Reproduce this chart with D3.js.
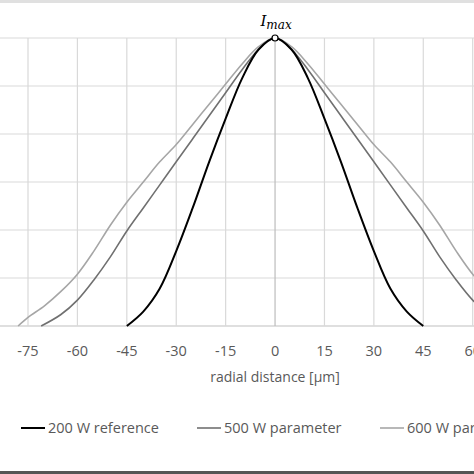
<!DOCTYPE html>
<html><head><meta charset="utf-8">
<script src="https://cdn.jsdelivr.net/npm/d3@7"></script>
<style>body{margin:0;background:#fff}</style></head>
<body><svg id="c" width="474" height="474"></svg>
<script>
const xTicks = [-75,-60,-45,-30,-15,0,15,30,45,60,75];
const seriesNames = ["200 W reference","500 W parameter","600 W parameter"];
const seriesColors = ["#000000","#707070","#a6a6a6"];
const x200 = [-45,-40,-35,-30,-25,-20,-15,-10,-5,0,5,10,15,20,25,30,35,40,45];
const y200 = [0,0.05,0.13,0.26,0.41,0.57,0.72,0.86,0.96,1,0.96,0.86,0.72,0.57,0.41,0.26,0.13,0.05,0];
const x500 = [-71,-65,-60,-55,-50,-45,-40,-35,-30,-25,-20,-15,-10,-5,0,5,10,15,20,25,30,35,40,45,50,55,60,65,71];
const y500 = [0,0.04,0.09,0.16,0.24,0.33,0.41,0.49,0.57,0.65,0.73,0.81,0.89,0.96,1,0.96,0.89,0.81,0.73,0.65,0.57,0.49,0.41,0.33,0.24,0.16,0.09,0.04,0];
const x600 = [-78,-75,-70,-65,-60,-55,-50,-45,-40,-35,-30,-25,-20,-15,-10,-5,0,5,10,15,20,25,30,35,40,45,50,55,60,65,70,75,78];
const y600 = [0,0.03,0.07,0.12,0.18,0.26,0.35,0.43,0.50,0.57,0.63,0.70,0.77,0.84,0.91,0.97,1,0.97,0.91,0.84,0.77,0.70,0.63,0.57,0.50,0.43,0.35,0.26,0.18,0.12,0.07,0.03,0];
const yTicks = [0,1/6,2/6,3/6,4/6,5/6,1];

const svg = d3.select("#c");
const x = d3.scaleLinear().domain([-83.5,60.4]).range([0,474]);
const y = d3.scaleLinear().domain([0,1]).range([326,38]);

svg.append("line").attr("x1",0).attr("x2",474).attr("y1",1.5).attr("y2",1.5).attr("stroke","#e0e0e0").attr("stroke-width",3);
svg.append("line").attr("x1",0).attr("x2",474).attr("y1",472.5).attr("y2",472.5).attr("stroke","#555").attr("stroke-width",3);

const g = svg.append("g");
g.selectAll(".hg").data(yTicks).join("line").attr("x1",0).attr("x2",474)
 .attr("y1",d=>y(d)).attr("y2",d=>y(d)).attr("stroke",(d)=>d===0?"#bfbfbf":"#d9d9d9").attr("stroke-width",1.2);
g.selectAll(".vg").data(xTicks).join("line").attr("x1",d=>x(d)).attr("x2",d=>x(d))
 .attr("y1",y(1)).attr("y2",y(0)).attr("stroke",d=>d===0?"#bdbdbd":"#d9d9d9").attr("stroke-width",1.2);
g.selectAll(".tl").data(xTicks).join("text").attr("x",d=>x(d)).attr("y",356)
 .attr("text-anchor","middle").attr("font-family","Open Sans, sans-serif").attr("font-size",14.5)
 .attr("fill","#595959").text(d=>d);
svg.append("text").attr("x",x(0)).attr("y",382).attr("text-anchor","middle")
 .attr("font-family","Open Sans, sans-serif").attr("font-size",14).attr("fill","#595959").text("radial distance [µm]");

const data = [[x200,y200],[x500,y500],[x600,y600]];
const line = d3.line().x(d=>x(d[0])).y(d=>y(d[1])).curve(d3.curveCatmullRom.alpha(0.5));
[2,1,0].forEach(i=>{
  const pts = data[i][0].map((v,j)=>[v,data[i][1][j]]);
  svg.append("path").attr("d",line(pts)).attr("fill","none").attr("stroke",seriesColors[i]).attr("stroke-width",i===0?2:1.6);
});
svg.append("circle").attr("cx",x(0)).attr("cy",y(1)).attr("r",3).attr("fill","#fff").attr("stroke","#000").attr("stroke-width",1.2);
const t = svg.append("text").attr("x",x(0)+1).attr("y",26).attr("text-anchor","middle")
 .attr("font-family","DejaVu Serif, serif").attr("font-style","italic").attr("font-size",15).attr("fill","#000");
t.append("tspan").text("I");
t.append("tspan").attr("font-size",12).attr("dy",3).text("max");

const lx = [21,197,380];
seriesNames.forEach((n,i)=>{
  svg.append("line").attr("x1",lx[i]).attr("x2",lx[i]+24).attr("y1",428).attr("y2",428).attr("stroke",seriesColors[i]).attr("stroke-width",i===0?2:1.6);
  svg.append("text").attr("x",lx[i]+27).attr("y",433).attr("font-family","Open Sans, sans-serif").attr("font-size",14.5).attr("fill","#595959").text(n);
});
</script></body></html>
